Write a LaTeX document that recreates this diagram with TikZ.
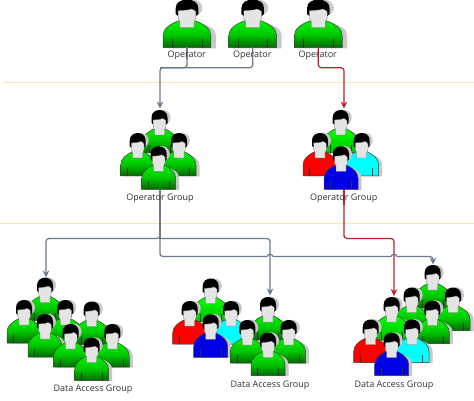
\documentclass[tikz,border=0pt]{standalone}
\usepackage{fontspec}
\setmainfont{Open Sans}
\usetikzlibrary{arrows.meta}
\definecolor{steelc}{RGB}{108,122,142}
\definecolor{redc}{RGB}{190,32,42}
\definecolor{bandc}{RGB}{250,232,170}
\definecolor{shadowc}{RGB}{200,200,200}
\definecolor{facec}{RGB}{228,228,228}
\definecolor{txtc}{RGB}{50,50,50}
\definecolor{purecyan}{RGB}{0,255,255}
\definecolor{puregreen}{RGB}{0,240,0}
\definecolor{midgreen}{RGB}{0,200,0}
\definecolor{deepgreen}{RGB}{0,105,0}
\tikzset{
  conn/.style={line width=1.2pt,rounded corners=3pt},
  steelconn/.style={conn,draw=steelc,-{Stealth[length=7pt,width=6.5pt]}},
  steelplain/.style={conn,draw=steelc},
  redconn/.style={conn,draw=redc,-{Stealth[length=7pt,width=6.5pt]}},
  band/.style={draw=bandc,line width=1.3pt},
  lab/.style={inner sep=0pt,text=txtc,font=\fontsize{9}{10}\selectfont},
  bigman/.style={xscale=1.41,yscale=1.12},
  gbody/.style={top color=puregreen,bottom color=deepgreen,middle color=midgreen},
  fgreen/.style={top color=green,bottom color=green!75!black},
  fred/.style={fill=red},
  fcyan/.style={fill=purecyan},
  fblue/.style={fill=blue!90!black},
}
\newcommand{\Person}[4][]{%
  \begin{scope}[shift={(#2,#3)},#1]
    \fill[shadowc] (-14,0.5) -- (20.5,0.5) -- (20.5,-11) .. controls (20.5,-17) and (15,-20) .. (9,-22) -- (-4,-22) -- cycle;
    \fill[shadowc] (3,-35.5) ellipse [x radius=8,y radius=7.8];
    \path[#4,draw=black!75,line width=0.5pt] (-17,0) -- (-17,-11) .. controls (-17,-17) and (-12,-21) .. (-6,-24) -- (6,-24) .. controls (12,-21) and (17,-17) .. (17,-11) -- (17,0) -- cycle;
    \draw[black!80,line width=0.5pt] (-10.5,0) -- (-10.5,-8) (10.5,0) -- (10.5,-8);
    \fill[black] (-8,-30) -- (-8,-35.5) .. controls (-8,-45.5) and (8,-45.5) .. (8,-35.5) -- (8,-30) -- (4,-26) -- (-4,-26) -- cycle;
    \path[fill=facec,draw=black!55,line width=0.3pt] (-5,-18) -- (-5,-23.5) -- (-6.3,-26) -- (-6.3,-33) .. controls (-3,-33.6) and (1,-33.2) .. (3,-34.6) .. controls (4.5,-34) and (5.8,-33.2) .. (6.3,-32.2) -- (6.3,-26) -- (5,-23.5) -- (5,-18) -- cycle;
  \end{scope}}
\begin{document}
\begin{tikzpicture}[x=1pt,y=-1pt]
\useasboundingbox (0,0) rectangle (474,401);
\clip (0,0) rectangle (474,401);
\fill[white] (0,0) rectangle (474,401);
% swimlane rules
\coordinate (bandAl) at (3,82.5); \coordinate (bandAr) at (474,82.5);
\coordinate (bandBl) at (0,223.5); \coordinate (bandBr) at (474,223.5);
\draw[band] (bandAl) -- (bandAr);
\draw[band] (bandBl) -- (bandBr);
% anchors
\coordinate (op1) at (187,47);
\coordinate (op2) at (252.7,47);
\coordinate (op3) at (318.3,47);
\coordinate (busA) at (160,67.7);
\coordinate (busR) at (344,67.7);
\coordinate (grpAin) at (160,108.5);
\coordinate (grpBin) at (344,108.5);
\coordinate (grpA) at (160,189);
\coordinate (grpB) at (344,189);
\coordinate (busC) at (160,238.5);
\coordinate (busD) at (160,256.5);
\coordinate (busE) at (344,238.5);
\coordinate (dag1in) at (46,277.5);
\coordinate (dag2in) at (270,295.5);
\coordinate (dag3in) at (433,264.5);
\coordinate (dag3bin) at (394,296);
\coordinate (jumpAa) at (267,256.5); \coordinate (jumpAb) at (273,256.5);
\coordinate (jumpBa) at (391,256.5); \coordinate (jumpBb) at (397,256.5);
% connectors
\draw[steelplain] (op2) |- (busA);
\draw[steelconn] (op1) |- (busA) -- (grpAin);
\draw[redconn] (op3) |- (busR) -- (grpBin);
\draw[steelconn] (grpA) |- (busD) -| (dag3in);
% line jumps on the lower bus
\draw[white,line width=2pt] (jumpAa) -- (jumpAb) (jumpBa) -- (jumpBb);
\draw[steelconn] (grpA) |- (busC) -| (dag1in);
\draw[steelconn] (busC) -| (dag2in);
\draw[redconn] (grpB) |- (busE) -| (dag3bin);
\draw[steelc,line width=1.1pt] (jumpAa) .. controls (268,253.5) and (272,253.5) .. (jumpAb);
\draw[steelc,line width=1.1pt] (jumpBa) .. controls (392,253.5) and (396,253.5) .. (jumpBb);
% operators
\Person[bigman]{187}{47.7}{gbody}
\Person[bigman]{252.7}{47.7}{gbody}
\Person[bigman]{318.3}{47.7}{gbody}
% operator group, green
\Person{159.5}{153}{gbody}
\Person{137.7}{176}{gbody}
\Person{179}{176}{gbody}
\Person{158.7}{189.3}{gbody}
% operator group, coloured
\Person{340.7}{153}{fgreen}
\Person{320}{176}{fred}
\Person{361.7}{176}{fcyan}
\Person{341}{189.3}{fblue}
% data access group 1
\Person{45}{320.7}{gbody}
\Person{24}{343}{gbody}
\Person{65.3}{343}{gbody}
\Person{45}{357}{gbody}
\Person{91.7}{344.5}{gbody}
\Person{112.3}{367}{gbody}
\Person{70.7}{367}{gbody}
\Person{91.7}{380.7}{gbody}
% data access group 2
\Person{210.7}{321.5}{fgreen}
\Person{189.7}{344}{fred}
\Person{231}{344}{fcyan}
\Person{210.7}{357.3}{fblue}
\Person{268}{340}{gbody}
\Person{247.3}{363}{gbody}
\Person{288.7}{363}{gbody}
\Person{268}{375.7}{gbody}
% data access group 3
\Person{432.7}{308}{gbody}
\Person{411.7}{330.5}{gbody}
\Person{453}{330.5}{gbody}
\Person{432.3}{343.7}{gbody}
\Person{391.7}{340}{fgreen}
\Person{370.7}{362.5}{fred}
\Person{412}{362.5}{fcyan}
\Person{391.7}{375.7}{fblue}
% connector stubs leaving the groups
\draw[steelplain] (grpA) -- (busC);
\draw[conn,draw=redc] (grpB) -- (344,205);
\draw[steelplain] (op1) -- ++(0,12);
\draw[steelplain] (op2) -- ++(0,12);
\draw[conn,draw=redc] (op3) -- ++(0,12);
% labels
\node[lab] (l1) at (186.7,55.5) {Operator};
\node[lab] (l2) at (252.3,55.5) {Operator};
\node[lab] (l3) at (317.7,55.5) {Operator};
\node[lab] (l4) at (160,198) {Operator Group};
\node[lab] (l5) at (343.7,198) {Operator Group};
\node[lab] (l6) at (93,389.5) {Data Access Group};
\node[lab] (l7) at (270,385) {Data Access Group};
\node[lab] (l8) at (394,385) {Data Access Group};
\end{tikzpicture}
\end{document}
